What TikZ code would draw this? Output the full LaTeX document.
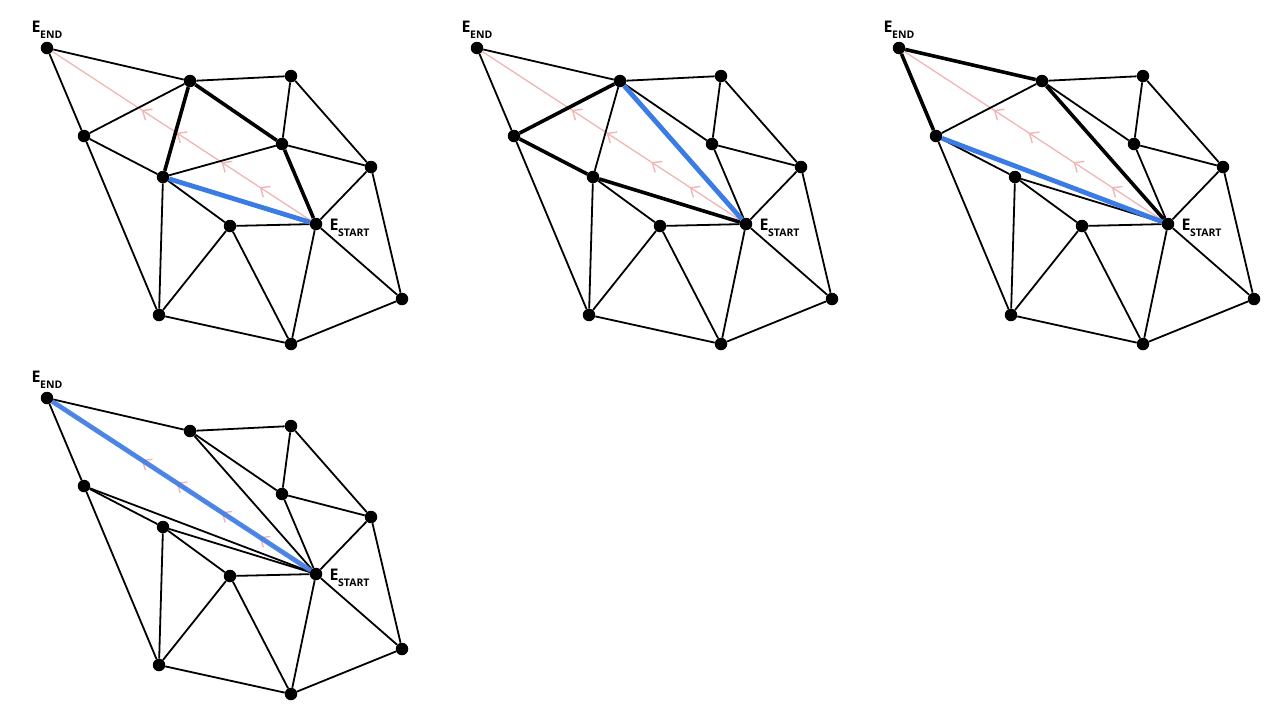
\documentclass[tikz,border=0pt]{standalone}
\usepackage{fontspec}
\setmainfont{Open Sans}
\usetikzlibrary{decorations.markings}
\usetikzlibrary{arrows.meta}
\definecolor{edgeblue}{HTML}{3B7BE6}
\definecolor{guidepink}{HTML}{F2B5B5}

\begin{document}
\begin{tikzpicture}[x=1pt,y=-1pt,
		pt/.style={circle,fill=black,inner sep=0pt,minimum size=12.5pt},
		edge/.style={line width=1.8pt},
		flip/.style={line width=3.6pt},
		newedge/.style={line width=4.8pt,draw=edgeblue},
		chev/.tip={Straight Barb[length=7.5pt,width=13pt,line width=1.4pt]},
		guide/.style={line width=1.3pt,color=guidepink,postaction={decorate},
			decoration={markings,
				mark=at position 0.197 with {\arrow{chev}},
				mark=at position 0.345 with {\arrow{chev}},
				mark=at position 0.519 with {\arrow{chev}},
				mark=at position 0.654 with {\arrow{chev}}}},
		lbl/.style={font=\bfseries\fontsize{16}{16}\selectfont,inner sep=0pt,anchor=base west}]
	\useasboundingbox (0,0) rectangle (1287,721);
	% the same points in all four steps
	\foreach \p/\dx/\dy in {A/0/0,B/430/0,C/852/0,D/0/350}{
		\begin{scope}[shift={(\dx,\dy)}]
			\node [pt] (\p-end) at (47,48) {};
			\node [pt] (\p-top) at (190,81) {};
			\node [pt] (\p-topr) at (291,76) {};
			\node [pt] (\p-left) at (84,136) {};
			\node [pt] (\p-cen) at (163,177) {};
			\node [pt] (\p-cenr) at (282,144) {};
			\node [pt] (\p-right) at (371,167) {};
			\node [pt] (\p-low) at (230,226) {};
			\node [pt] (\p-start) at (316,224) {};
			\node [pt] (\p-botl) at (159,315) {};
			\node [pt] (\p-bot) at (291,344) {};
			\node [pt] (\p-botr) at (402,299) {};
			\node [lbl, xshift=-15.5pt, yshift=16pt] at (\p-end) {E\kern-0.5pt\raisebox{-6.5pt}{\fontsize{10.5}{10.5}\selectfont END}};
			\node [lbl, xshift=13.5pt, yshift=-6pt] at (\p-start) {E\kern-0.5pt\raisebox{-6pt}{\fontsize{10.5}{10.5}\selectfont START}};
		\end{scope}
		\draw [guide] (\p-start) -- (\p-end);
		\foreach \u/\v in {top/topr,topr/cenr,topr/right,left/botl,cen/low,cen/botl,cenr/right,right/start,
			right/botr,low/start,low/botl,low/bot,start/bot,start/botr,botl/bot,bot/botr}
			\draw [edge] (\p-\u) -- (\p-\v);
	}
	% step 1
	\foreach \u/\v in {end/top,end/left,top/left,left/cen,cen/cenr}
		\draw [edge] (A-\u) -- (A-\v);
	\foreach \u/\v in {top/cen,top/cenr,cenr/start}
		\draw [flip] (A-\u) -- (A-\v);
	\draw [newedge] (A-cen) -- (A-start);
	% step 2
	\foreach \u/\v in {end/top,end/left,top/cen,top/cenr,cenr/start}
		\draw [edge] (B-\u) -- (B-\v);
	\foreach \u/\v in {top/left,left/cen,cen/start}
		\draw [flip] (B-\u) -- (B-\v);
	\draw [newedge] (B-top) -- (B-start);
	% step 3
	\foreach \u/\v in {top/left,top/cenr,cenr/start,left/cen,cen/start}
		\draw [edge] (C-\u) -- (C-\v);
	\foreach \u/\v in {end/top,end/left,top/start}
		\draw [flip] (C-\u) -- (C-\v);
	\draw [newedge] (C-left) -- (C-start);
	% step 4
	\foreach \u/\v in {end/top,end/left,top/start,top/cenr,cenr/start,left/start,left/cen,cen/start}
		\draw [edge] (D-\u) -- (D-\v);
	\draw [newedge, opacity=0.9] (D-end) -- (D-start);
\end{tikzpicture}
\end{document}
